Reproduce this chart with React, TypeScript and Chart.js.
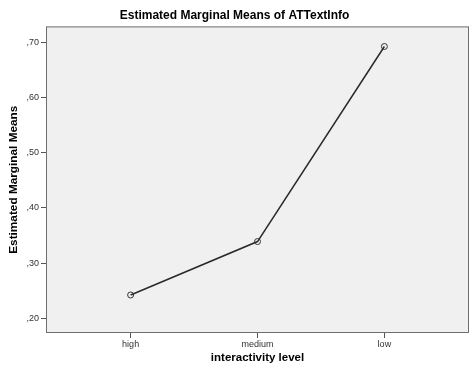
import React, { useEffect, useRef } from "react";
import { Chart, registerables } from "chart.js";

Chart.register(...registerables);

const categories = ["high", "medium", "low"];
const means = [0.242, 0.339, 0.693];
const yTicks = [0.2, 0.3, 0.4, 0.5, 0.6, 0.7];

const FONT = "'Liberation Sans', Arial, sans-serif";

const bgPlugin = {
  id: "plotBg",
  beforeDraw(chart: any) {
    const { ctx, chartArea } = chart;
    ctx.save();
    ctx.fillStyle = "#f0f0f0";
    ctx.fillRect(chartArea.left, chartArea.top, chartArea.right - chartArea.left, chartArea.bottom - chartArea.top);
    ctx.restore();
  },
  afterDraw(chart: any) {
    const { ctx, chartArea } = chart;
    ctx.save();
    ctx.strokeStyle = "#6e6e6e";
    ctx.lineWidth = 1;
    ctx.strokeRect(chartArea.left + 0.5, chartArea.top + 0.5, chartArea.right - chartArea.left - 1, chartArea.bottom - chartArea.top - 1);
    ctx.restore();
  },
};

export default function App() {
  const ref = useRef<HTMLCanvasElement>(null);
  useEffect(() => {
    document.body.style.margin = "0";
    const chart = new Chart(ref.current!, {
      type: "line",
      data: {
        datasets: [
          {
            data: means.map((v, i) => ({ x: i, y: v })),
            borderColor: "#2a2a2a",
            borderWidth: 1.5,
            pointRadius: 3,
            pointBorderWidth: 1,
            pointBorderColor: "#333333",
            pointBackgroundColor: "rgba(0,0,0,0)",
            fill: false,
            tension: 0,
          },
        ],
      },
      options: {
        animation: false,
        responsive: false,
        layout: { padding: { top: 0, right: 5, bottom: 0, left: 0 } },
        plugins: {
          legend: { display: false },
          tooltip: { enabled: false },
          title: {
            display: true,
            text: "Estimated Marginal Means of ATTextInfo",
            color: "#000",
            font: { family: FONT, size: 12, weight: "bold" },
            padding: { top: 8, bottom: 4 },
          },
        },
        scales: {
          x: {
            type: "linear",
            min: -0.667,
            max: 2.667,
            afterBuildTicks(scale: any) {
              scale.ticks = categories.map((_, i) => ({ value: i }));
            },
            afterFit(scale: any) {
              scale.height = 46;
            },
            ticks: {
              callback: (v: any) => categories[v] ?? "",
              color: "#333",
              font: { family: FONT, size: 9 },
              padding: 1,
              maxRotation: 0,
            },
            grid: { drawOnChartArea: false, drawTicks: true, tickLength: 5, color: "#555" },
            border: { display: false },
            title: {
              display: true,
              text: "interactivity level",
              color: "#000",
              font: { family: FONT, size: 11.5, weight: "bold" },
              padding: 14,
            },
          },
          y: {
            type: "linear",
            min: 0.173,
            max: 0.7295,
            afterBuildTicks(scale: any) {
              scale.ticks = yTicks.map((v) => ({ value: v }));
            },
            afterFit(scale: any) {
              scale.width = 46;
            },
            ticks: {
              callback: (v: any) => Number(v).toFixed(2).replace("0.", ","),
              color: "#333",
              font: { family: FONT, size: 9 },
              padding: 2,
            },
            grid: { drawOnChartArea: false, drawTicks: true, tickLength: 5, color: "#555" },
            border: { display: false },
            title: {
              display: true,
              text: "Estimated Marginal Means",
              color: "#000",
              font: { family: FONT, size: 11.8, weight: "bold" },
              padding: 7,
            },
          },
        },
      },
      plugins: [bgPlugin],
    });
    return () => chart.destroy();
  }, []);
  return (
    <div style={{ width: 474, height: 379, background: "#fff" }}>
      <canvas ref={ref} width={474} height={379} style={{ display: "block" }} />
    </div>
  );
}
